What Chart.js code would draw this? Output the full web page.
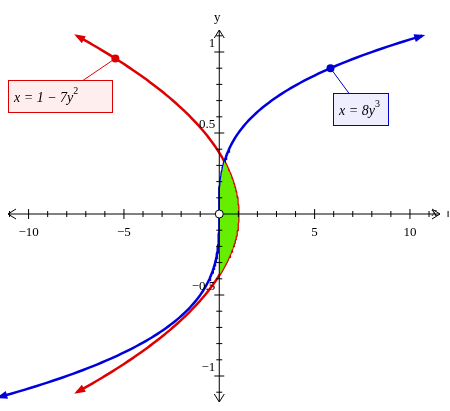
<!DOCTYPE html><html><head><script src="https://cdn.jsdelivr.net/npm/chart.js@4"></script>
<style>html,body{margin:0;padding:0;background:#fff;overflow:hidden}canvas{display:block}</style></head><body><canvas id="c" width="450" height="411" style="width:450px;height:411px"></canvas>
<script>
const blueCoef=[8,3];          // x = 8 y^3
const redCoef=[1,-7];          // x = 1 - 7 y^2
const blueRange=[-1.13,1.1];
const redRange=[-1.1,1.1];
const xTickLabels=[-10,-5,5,10];
const yTickLabels=[1,0.5,-0.5,-1];
const bluePointY=0.9, redPointY=0.96;
const fB=y=>blueCoef[0]*Math.pow(y,blueCoef[1]);
const fR=y=>redCoef[0]+redCoef[1]*y*y;
function curve(f,r){const p=[];for(let i=0;i<=200;i++){const y=r[0]+(r[1]-r[0])*i/200;p.push({x:f(y),y});}return p;}
const yTop=0.3245,yBot=-1/Math.sqrt(7);
const shade=[];
for(let i=0;i<=60;i++){const y=yBot+(yTop-yBot)*i/60;shade.push({x:fR(y),y});}
for(let i=60;i>=0;i--){const y=yBot+(yTop-yBot)*i/60;shade.push({x:Math.max(fB(y),0),y});}
const blue=curve(fB,blueRange), red=curve(fR,redRange);
const arrows={id:'ax',afterDatasetsDraw(ch){
 const c=ch.ctx,X=ch.scales.x,Y=ch.scales.y,x0=X.getPixelForValue(0),y0=Y.getPixelForValue(0);
 c.save();c.strokeStyle='#000';c.fillStyle='#000';c.lineWidth=1;
 c.beginPath();c.moveTo(8,y0);c.lineTo(440,y0);c.moveTo(x0,30);c.lineTo(x0,402);c.stroke();
 const ah=(x,y,dx,dy)=>{c.beginPath();c.moveTo(x-dx*8+dy*5,y-dy*8+dx*5);c.lineTo(x,y);c.lineTo(x-dx*8-dy*5,y-dy*8-dx*5);c.stroke();};
 ah(8,y0,-1,0);ah(440,y0,1,0);ah(x0,30,0,-1);ah(x0,402,0,1);
 for(let i=-11;i<=12;i++){if(!i)continue;const p=X.getPixelForValue(i),l=i%5?3:5;c.beginPath();c.moveTo(p,y0-l);c.lineTo(p,y0+l);c.stroke();}
 for(let i=-11;i<=11;i++){if(!i)continue;const p=Y.getPixelForValue(i/10),l=i%5?3:5;c.beginPath();c.moveTo(x0-l,p);c.lineTo(x0+l,p);c.stroke();}
 c.font='13px "Liberation Serif"';c.textAlign='center';c.textBaseline='top';
 xTickLabels.forEach(v=>c.fillText(v<0?'−'+(-v):v,X.getPixelForValue(v),y0+12));
 c.textAlign='right';c.textBaseline='middle';
 yTickLabels.forEach(v=>c.fillText(v<0?'−'+(-v):String(v),x0-4,Y.getPixelForValue(v)-8));
 c.textAlign='left';c.fillText('x',431,y0-1);c.fillText('y',214,18);
 c.beginPath();c.arc(x0,y0,4,0,7);c.fillStyle='#fff';c.fill();c.stroke();
 const cArrow=(pts,col,end)=>{const n=pts.length,a=end?pts[n-1]:pts[0],b=end?pts[n-4]:pts[3];
  const ax=X.getPixelForValue(a.x),ay=Y.getPixelForValue(a.y),bx=X.getPixelForValue(b.x),by=Y.getPixelForValue(b.y);
  const d=Math.hypot(ax-bx,ay-by),ux=(ax-bx)/d,uy=(ay-by)/d;c.fillStyle=col;c.beginPath();c.moveTo(ax+ux*3,ay+uy*3);
  c.lineTo(ax-ux*8+uy*4,ay-uy*8-ux*4);c.lineTo(ax-ux*8-uy*4,ay-uy*8+ux*4);c.fill();};
 cArrow(blue,'#0000dd',0);cArrow(blue,'#0000dd',1);cArrow(red,'#dd0000',0);cArrow(red,'#dd0000',1);
 const box=(px,py,bx,by,w,h,col,bg,txt,sup)=>{c.strokeStyle=col;c.beginPath();c.moveTo(px,py);c.lineTo(bx+w/2,by+h/2);c.stroke();
  c.fillStyle=bg;c.fillRect(bx,by,w,h);c.strokeRect(bx+.5,by+.5,w,h);c.fillStyle='#000';c.font='italic 14px "Liberation Serif"';
  c.textAlign='left';c.textBaseline='middle';c.fillText(txt,bx+6,by+h/2+2);const tw=c.measureText(txt).width;c.font='10px "Liberation Serif"';c.fillText(sup,bx+6+tw,by+h/2-5);
  c.fillStyle=col;c.beginPath();c.arc(px,py,4,0,7);c.fill();};
 box(X.getPixelForValue(fR(redPointY)),Y.getPixelForValue(redPointY),8,80,104,32,'#dd0000','#ffeeee','x = 1 − 7y','2');
 box(X.getPixelForValue(fB(bluePointY)),Y.getPixelForValue(bluePointY),333,93,55,32,'#0000cc','#eeeeff','x = 8y','3');
 c.restore();}};
new Chart(document.getElementById('c'),{type:'scatter',data:{datasets:[
 {data:shade,showLine:true,fill:'shape',backgroundColor:'#66ee00',borderWidth:0,pointRadius:0,tension:0},
 {data:blue,showLine:true,borderColor:'#0000dd',borderWidth:2.5,pointRadius:0,fill:false},
 {data:red,showLine:true,borderColor:'#dd0000',borderWidth:2.5,pointRadius:0,fill:false}]},
 options:{responsive:false,animation:false,devicePixelRatio:1,layout:{padding:0},
 plugins:{legend:{display:false},tooltip:{enabled:false}},
 scales:{x:{type:'linear',min:-11.5,max:12.1,display:false,bounds:'data',grace:0,ticks:{display:false}},
         y:{type:'linear',min:-1.216,max:1.321,display:false,bounds:'data',grace:0,ticks:{display:false}}}},
 plugins:[arrows]});
</script></body></html>
